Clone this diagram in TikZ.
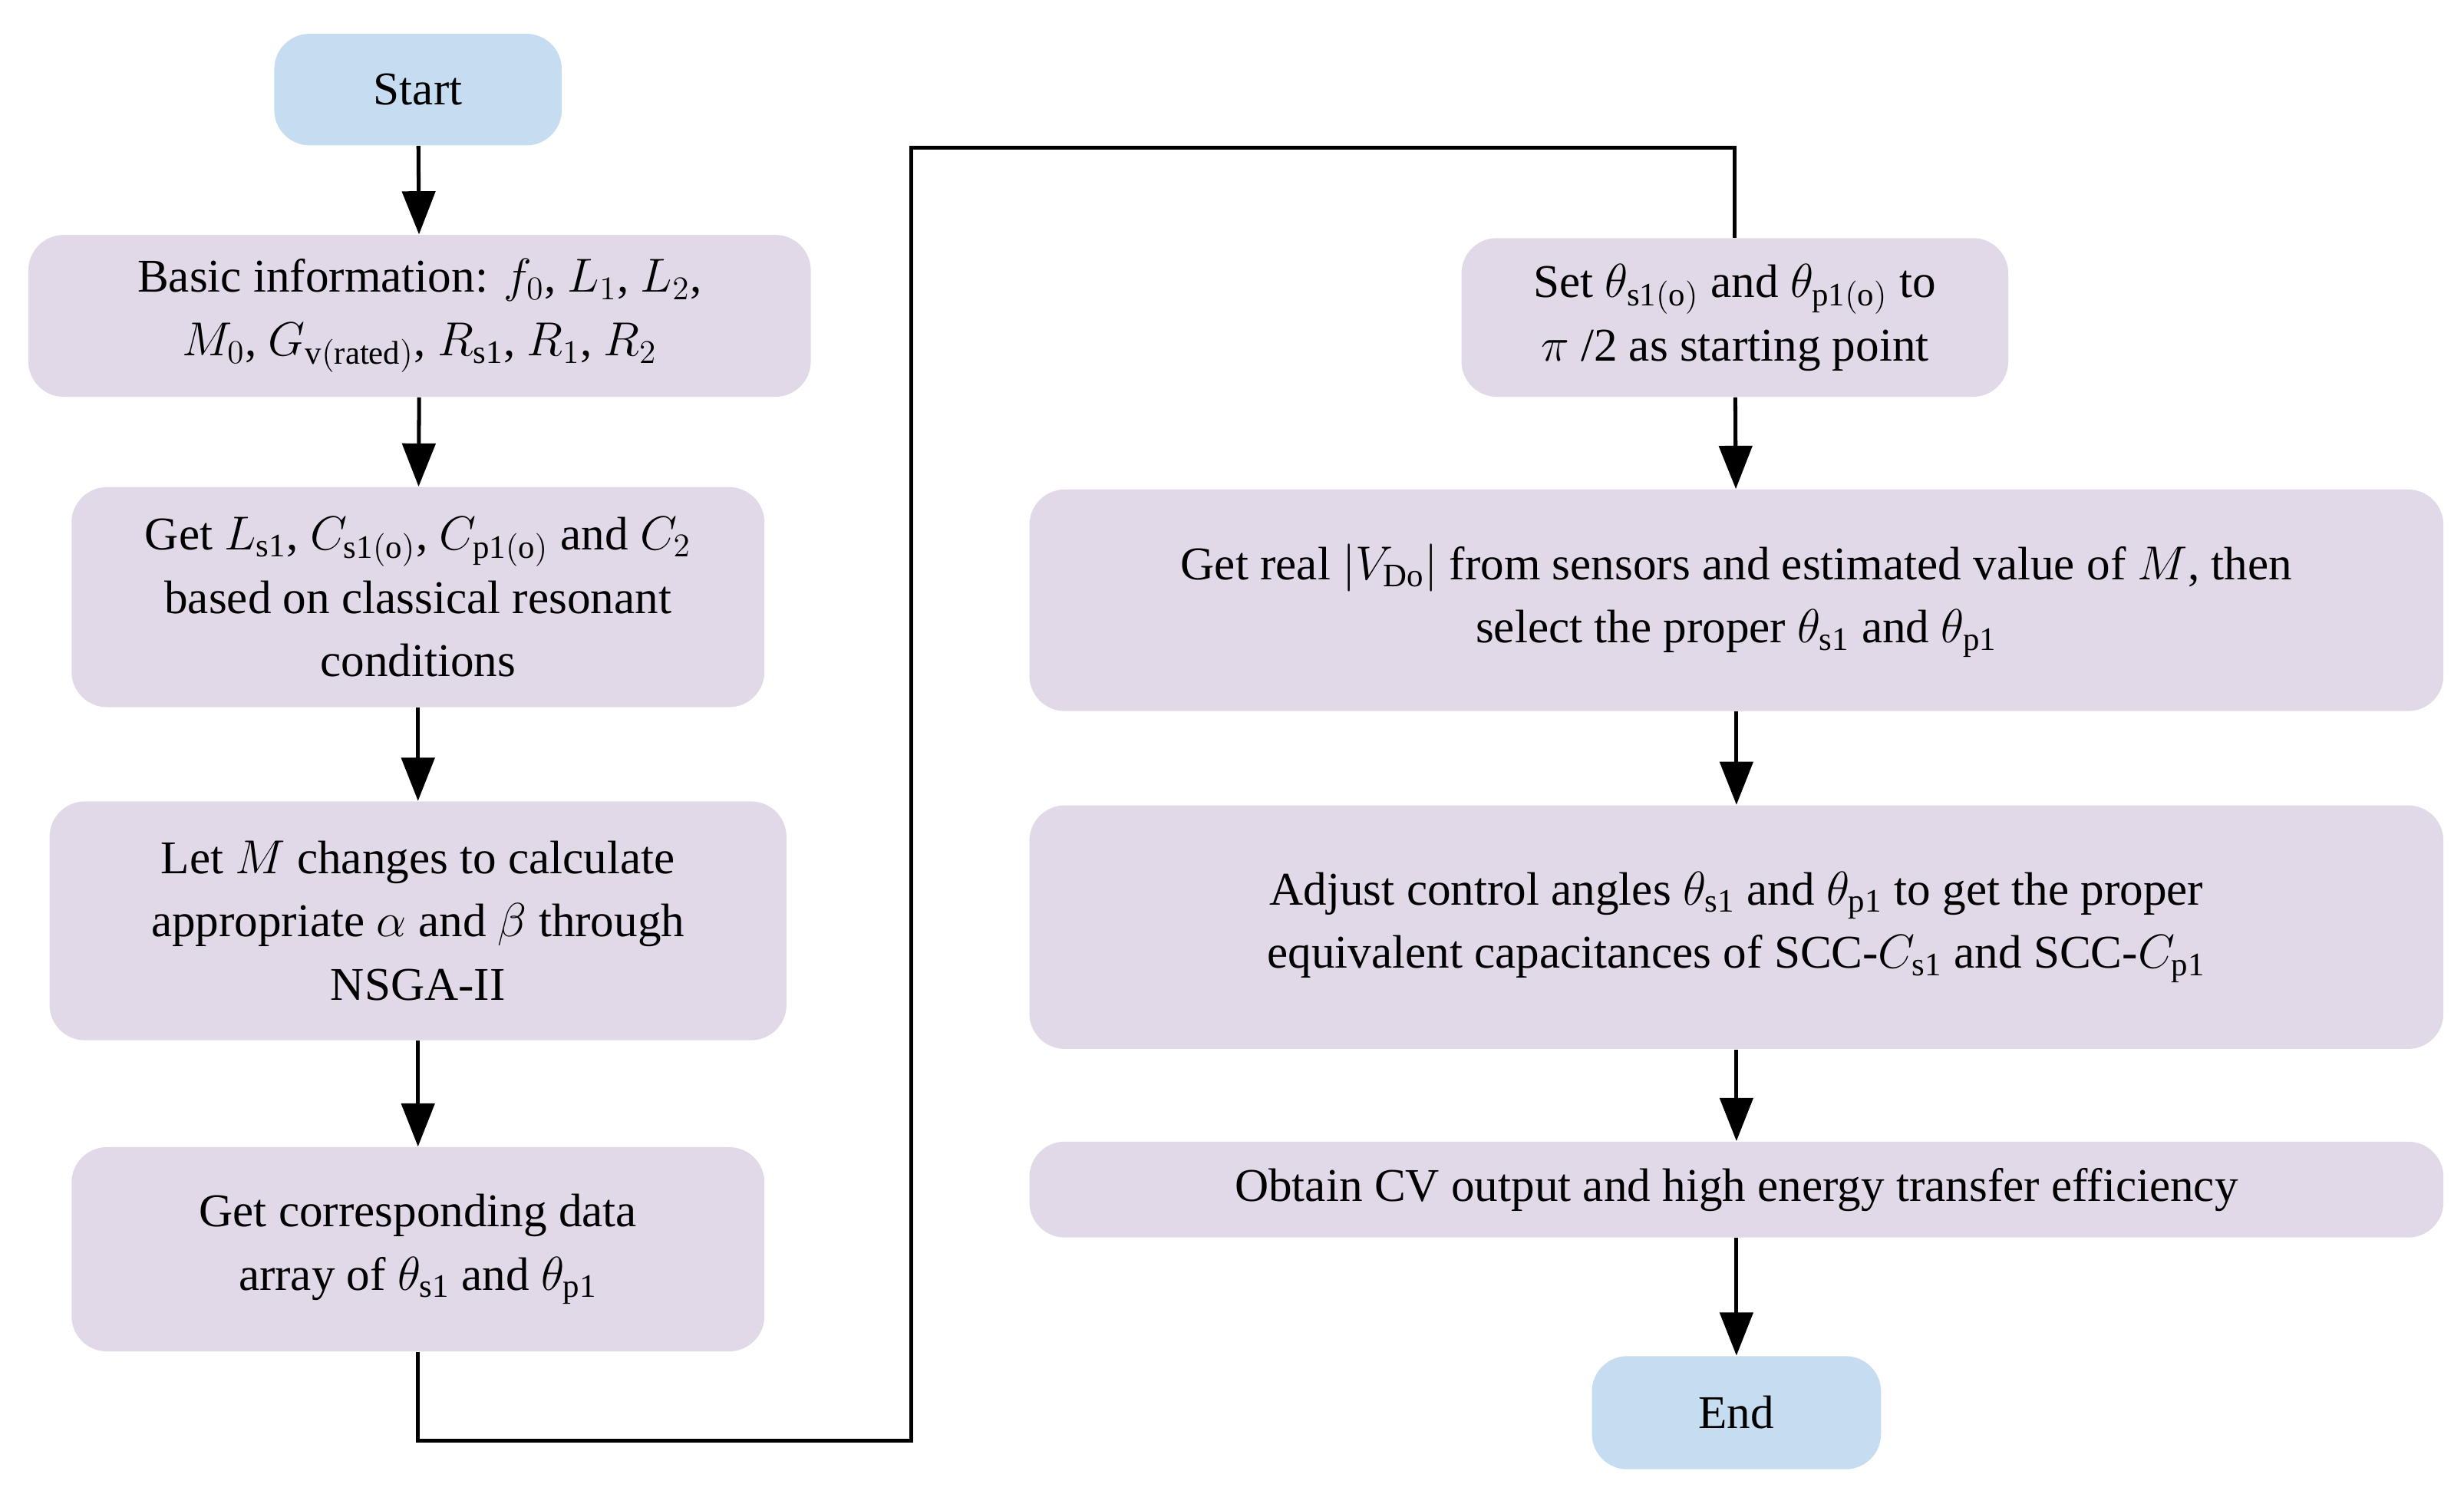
\documentclass[tikz,border=0pt]{standalone}
\usepackage{fontspec}
\setmainfont{Liberation Serif}
\usetikzlibrary{arrows.meta}
\definecolor{boxfill}{HTML}{E1D9E7}
\definecolor{termfill}{HTML}{C6DDF1}
\begin{document}
\begin{tikzpicture}[x=0.02cm,y=-0.02cm,
  box/.style={draw=none,fill=boxfill,rounded corners=0.45cm,align=center,
    font=\fontsize{17}{23}\selectfont,inner sep=0pt},
  term/.style={box,fill=termfill},
  flow/.style={line width=1.4pt,-{Triangle[length=0.55cm,width=0.42cm]}},
  link/.style={line width=1.4pt}]
\useasboundingbox (0,0) rectangle (1568,957);
\fill[white] (0,0) rectangle (1568,957);
\node[term,minimum width=3.66cm,minimum height=1.42cm] (start) at (266,57) {Start};
\node[box,minimum width=9.96cm,minimum height=2.06cm] (b1) at (267,201)
  {Basic information: $f_0$, $L_1$, $L_2$,\\ $M_0$, $G_{\mathrm{v(rated)}}$, $R_{\mathrm{s1}}$, $R_1$, $R_2$};
\node[box,minimum width=8.82cm,minimum height=2.8cm] (b2) at (266,380)
  {Get $L_{\mathrm{s1}}$, $C_{\mathrm{s1(o)}}$, $C_{\mathrm{p1(o)}}$ and $C_2$\\ based on classical resonant\\ conditions};
\node[box,minimum width=9.38cm,minimum height=3.04cm] (b3) at (266,586)
  {Let $M$ changes to calculate\\ appropriate $\alpha$ and $\beta$ through\\ NSGA-II};
\node[box,minimum width=8.82cm,minimum height=2.6cm] (b4) at (266,795)
  {Get corresponding data\\ array of $\theta_{\mathrm{s1}}$ and $\theta_{\mathrm{p1}}$};
\node[box,minimum width=6.96cm,minimum height=2.02cm] (b5) at (1104,202)
  {Set $\theta_{\mathrm{s1(o)}}$ and $\theta_{\mathrm{p1(o)}}$ to\\ $\pi$ /2 as starting point};
\node[box,minimum width=18cm,minimum height=2.82cm] (b6) at (1105,382)
  {Get real $|V_{\mathrm{Do}}|$ from sensors and estimated value of $M$, then\\ select the proper $\theta_{\mathrm{s1}}$ and $\theta_{\mathrm{p1}}$};
\node[box,minimum width=18cm,minimum height=3.1cm] (b7) at (1105,590)
  {Adjust control angles $\theta_{\mathrm{s1}}$ and $\theta_{\mathrm{p1}}$ to get the proper\\ equivalent capacitances of SCC-$C_{\mathrm{s1}}$ and SCC-$C_{\mathrm{p1}}$};
\node[box,minimum width=18cm,minimum height=1.22cm] (b8) at (1105,757)
  {Obtain CV output and high energy transfer efficiency};
\node[term,minimum width=3.68cm,minimum height=1.44cm] (end) at (1105,899) {End};
\draw[flow] (start) -- (b1);
\draw[flow] (b1) -- (b2);
\draw[flow] (b2) -- (b3);
\draw[flow] (b3) -- (b4);
\draw[link] (b4.south) |- (580,917) |- (1104,94) -- (b5.north);
\draw[flow] (b5) -- (b6);
\draw[flow] (b6) -- (b7);
\draw[flow] (b7) -- (b8);
\draw[flow] (b8) -- (end);
\end{tikzpicture}
\end{document}
